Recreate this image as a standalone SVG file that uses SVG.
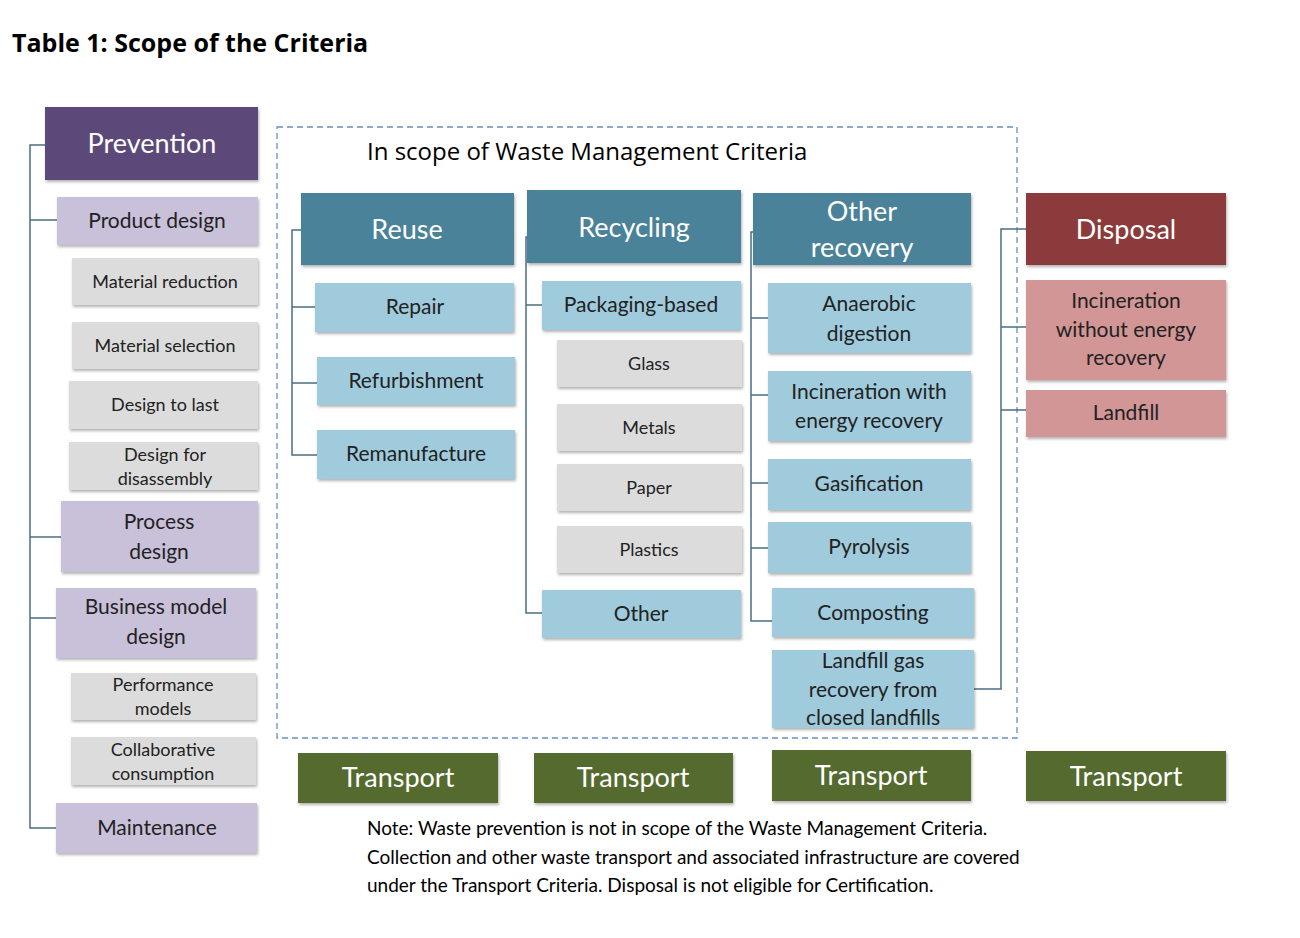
<svg xmlns="http://www.w3.org/2000/svg" width="1300" height="938" viewBox="0 0 1300 938">
<defs>
<filter id="sh" x="-5%" y="-5%" width="115%" height="125%"><feDropShadow dx="1" dy="2" stdDeviation="1.5" flood-color="#000" flood-opacity="0.3"/></filter>
</defs>
<style>
rect.b{filter:url(#sh)}
.pv{fill:#5c4a7a}.lv{fill:#c9c0da}.gy{fill:#dcdcdc}.tl{fill:#4a8299}.lb{fill:#9fcbdc}.dr{fill:#8b3a3a}.pk{fill:#d39696}.gr{fill:#556b2f}
text{font-family:Lato,"Open Sans","Liberation Sans",sans-serif;text-anchor:middle;fill:#222}
.w{fill:#fff}
.h{font-size:27px}.m{font-size:21px}.s{font-size:18px}
.c path{fill:none;stroke:#4a6f82;stroke-width:1.5}
</style>
<text x="12" y="52" style="font-family:'Open Sans','Liberation Sans',sans-serif;font-weight:bold;font-size:25px;text-anchor:start;fill:#000">Table 1: Scope of the Criteria</text>
<rect x="277" y="127" width="740" height="611" fill="none" stroke="#6a8fc0" stroke-width="1.3" stroke-dasharray="6,4"/>
<text x="367" y="160" style="font-family:'Open Sans','Liberation Sans',sans-serif;font-size:24px;text-anchor:start;fill:#000">In scope of Waste Management Criteria</text>
<g class="c">
<path d="M45,145H30V828H56M30,220H57M30,537H61M30,618H56"/>
<path d="M301,230H292V455H317M292,307H315M292,383H317"/>
<path d="M527,237H526V613H542M526,305H542"/>
<path d="M753,232H751V621H772M751,318H768M751,395H768M751,483H768M751,548H768"/>
<path d="M1026,229H1001V689H974M1001,327H1026M1001,410H1026"/>
</g>
<g id="prevention"><rect class="b pv" x="45" y="107" width="213" height="73"/><text class="h w" x="152" y="153">Prevention</text></g>
<g id="product-design"><rect class="b lv" x="57" y="197" width="201" height="48"/><text class="m" x="157" y="228">Product design</text></g>
<g id="material-reduction"><rect class="b gy" x="72" y="258" width="186" height="47"/><text class="s" x="165" y="288">Material reduction</text></g>
<g id="material-selection"><rect class="b gy" x="72" y="322" width="186" height="47"/><text class="s" x="165" y="352">Material selection</text></g>
<g id="design-to-last"><rect class="b gy" x="69" y="381" width="189" height="48"/><text class="s" x="165" y="411">Design to last</text></g>
<g id="design-for-disassembly"><rect class="b gy" x="69" y="442" width="189" height="48"/><text class="s" x="165" y="461">Design for</text><text class="s" x="165" y="485">disassembly</text></g>
<g id="process-design"><rect class="b lv" x="61" y="501" width="197" height="71"/><text class="m" x="159" y="529">Process</text><text class="m" x="159" y="559">design</text></g>
<g id="business-model-design"><rect class="b lv" x="56" y="588" width="200" height="70"/><text class="m" x="156" y="614">Business model</text><text class="m" x="156" y="644">design</text></g>
<g id="performance-models"><rect class="b gy" x="71" y="673" width="185" height="47"/><text class="s" x="163" y="691">Performance</text><text class="s" x="163" y="715">models</text></g>
<g id="collaborative-consumption"><rect class="b gy" x="71" y="737" width="185" height="48"/><text class="s" x="163" y="756">Collaborative</text><text class="s" x="163" y="780">consumption</text></g>
<g id="maintenance"><rect class="b lv" x="56" y="803" width="201" height="50"/><text class="m" x="157" y="835">Maintenance</text></g>

<g id="reuse"><rect class="b tl" x="301" y="193" width="213" height="72"/><text class="h w" x="407" y="239">Reuse</text></g>
<g id="repair"><rect class="b lb" x="315" y="283" width="199" height="49"/><text class="m" x="415" y="314">Repair</text></g>
<g id="refurbishment"><rect class="b lb" x="317" y="357" width="198" height="48"/><text class="m" x="416" y="388">Refurbishment</text></g>
<g id="remanufacture"><rect class="b lb" x="317" y="430" width="198" height="49"/><text class="m" x="416" y="461">Remanufacture</text></g>

<g id="recycling"><rect class="b tl" x="527" y="190" width="214" height="73"/><text class="h w" x="634" y="237">Recycling</text></g>
<g id="packaging-based"><rect class="b lb" x="542" y="281" width="199" height="49"/><text class="m" x="641" y="312">Packaging-based</text></g>
<g id="glass"><rect class="b gy" x="557" y="340" width="185" height="47"/><text class="s" x="649" y="370">Glass</text></g>
<g id="metals"><rect class="b gy" x="557" y="404" width="185" height="47"/><text class="s" x="649" y="434">Metals</text></g>
<g id="paper"><rect class="b gy" x="557" y="464" width="185" height="47"/><text class="s" x="649" y="494">Paper</text></g>
<g id="plastics"><rect class="b gy" x="557" y="526" width="185" height="47"/><text class="s" x="649" y="556">Plastics</text></g>
<g id="other"><rect class="b lb" x="542" y="590" width="199" height="48"/><text class="m" x="641" y="621">Other</text></g>

<g id="other-recovery"><rect class="b tl" x="753" y="193" width="218" height="72"/><text class="h w" x="862" y="221">Other</text><text class="h w" x="862" y="257">recovery</text></g>
<g id="anaerobic-digestion"><rect class="b lb" x="768" y="283" width="203" height="70"/><text class="m" x="869" y="311">Anaerobic</text><text class="m" x="869" y="341">digestion</text></g>
<g id="incineration-with"><rect class="b lb" x="768" y="371" width="203" height="70"/><text class="m" x="869" y="399">Incineration with</text><text class="m" x="869" y="428">energy recovery</text></g>
<g id="gasification"><rect class="b lb" x="768" y="459" width="203" height="51"/><text class="m" x="869" y="491">Gasification</text></g>
<g id="pyrolysis"><rect class="b lb" x="768" y="522" width="203" height="51"/><text class="m" x="869" y="554">Pyrolysis</text></g>
<g id="composting"><rect class="b lb" x="772" y="588" width="202" height="49"/><text class="m" x="873" y="620">Composting</text></g>
<g id="landfill-gas"><rect class="b lb" x="772" y="650" width="202" height="78"/><text class="m" x="873" y="668">Landfill gas</text><text class="m" x="873" y="697">recovery from</text><text class="m" x="873" y="725">closed landfills</text></g>

<g id="disposal"><rect class="b dr" x="1026" y="193" width="200" height="72"/><text class="h w" x="1126" y="239">Disposal</text></g>
<g id="incineration-without"><rect class="b pk" x="1026" y="280" width="200" height="100"/><text class="m" x="1126" y="308">Incineration</text><text class="m" x="1126" y="337">without energy</text><text class="m" x="1126" y="365">recovery</text></g>
<g id="landfill"><rect class="b pk" x="1026" y="390" width="200" height="47"/><text class="m" x="1126" y="420">Landfill</text></g>

<g id="transport-1"><rect class="b gr" x="298" y="753" width="200" height="50"/><text class="h w" x="398" y="787">Transport</text></g>
<g id="transport-2"><rect class="b gr" x="534" y="753" width="199" height="50"/><text class="h w" x="633" y="787">Transport</text></g>
<g id="transport-3"><rect class="b gr" x="772" y="750" width="199" height="51"/><text class="h w" x="871" y="785">Transport</text></g>
<g id="transport-4"><rect class="b gr" x="1026" y="751" width="200" height="50"/><text class="h w" x="1126" y="786">Transport</text></g>

<g style="font-family:'Open Sans','Liberation Sans',sans-serif;font-size:19px">
<text x="367" y="835" style="text-anchor:start;fill:#000">Note: Waste prevention is not in scope of the Waste Management Criteria.</text>
<text x="367" y="864" style="text-anchor:start;fill:#000">Collection and other waste transport and associated infrastructure are covered</text>
<text x="367" y="892" style="text-anchor:start;fill:#000">under the Transport Criteria.  Disposal is not eligible for Certification.</text>
</g>
</svg>
